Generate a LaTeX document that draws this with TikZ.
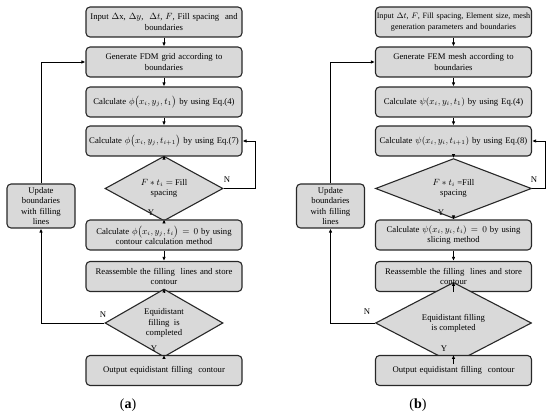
\documentclass[tikz,border=0pt]{standalone}
\usepackage{fontspec}
\setmainfont{Liberation Serif}
\usetikzlibrary{shapes.geometric,arrows.meta}
\definecolor{boxgray}{RGB}{217,217,217}
\definecolor{edgegray}{RGB}{40,40,40}
\tikzset{
  x=1pt,y=-1pt,
  every node/.style={font=\fontsize{8.7}{10.2}\selectfont},
  procbox/.style={draw=edgegray,line width=1.1pt,fill=boxgray,rounded corners=4pt,
    align=center,inner sep=0pt,minimum height=30pt},
  wideA/.style={procbox,minimum width=156pt,text width=156pt},
  upd/.style={procbox,minimum width=68pt,minimum height=44pt,text width=68pt},
  decide/.style={draw=edgegray,line width=1.1pt,fill=boxgray,diamond,align=center,inner sep=0pt},
  arr/.style={draw=black,line width=0.8pt,-{Latex[length=4pt,width=3.5pt]}},
  lab/.style={inner sep=0pt},
  captxt/.style={inner sep=0pt,font=\fontsize{14}{16}\selectfont}
}
\begin{document}
\begin{tikzpicture}
\useasboundingbox (0,0) rectangle (550,417);
% ---------------- (a)
\node[wideA] (a1) at (164,22) {Input $\Delta\mathrm{x}$, $\Delta y$,\ \ $\Delta t$, $F$, Fill spacing\ \ and\\boundaries};
\node[wideA] (a2) at (164,62) {Generate FDM grid according to\\boundaries};
\node[wideA] (a3) at (164,102) {Calculate $\phi\bigl(x_i,y_j,t_1\bigr)$ by using Eq.(4)};
\node[wideA] (a4) at (164,141) {Calculate $\phi\bigl(x_i,y_j,t_{i+1}\bigr)$ by using Eq.(7)};
\node[decide,minimum width=118pt,minimum height=43pt] (ad1) at (164,188.5) {$F*t_i=$ Fill\\spacing};
\node[wideA] (a5) at (164,235) {Calculate $\phi\bigl(x_i,y_j,t_i\bigr)=0$ by using\\contour calculation method};
\node[wideA] (a6) at (164,276.5) {Reassemble the filling\ \ lines and store\\contour};
\node[decide,minimum width=118pt,minimum height=42pt] (ad2) at (164,323) {Equidistant\\filling\ \ is\\completed};
\node[wideA] (a7) at (164,370.5) {Output equidistant filling\ \ contour};
\node[upd] (au) at (41,206) {Update\\boundaries\\with filling\\lines};
\draw[arr] (a1) -- (a2);
\draw[arr] (a2) -- (a3);
\draw[arr] (a3) -- (a4);
\draw[arr] (a4) -- (ad1);
\draw[arr] (ad1) -- (a5);
\draw[arr] (a5) -- (a6);
\draw[arr] (a6) -- (ad2);
\draw[arr] (ad2) -- (a7);
\draw[arr] (ad1.east) -- ++(32,0) |- (a4.east);
\draw[arr] (ad2.west) -| (au.south);
\draw[arr] (au.north) |- (a2.west);
\node[lab] (an1) at (227,180) {N};
\node[lab] (ay1) at (151,213) {Y};
\node[lab] (an2) at (103,315) {N};
\node[lab] (ay2) at (154,349) {Y};
\node[captxt] (capa) at (128,405) {(\textbf{a})};
% ---------------- (b)
\node[wideA,font=\fontsize{8.1}{10.2}\selectfont] (b1) at (453.5,22) {Input $\Delta t$, $F$, Fill spacing, Element size, mesh\\generation parameters and boundaries};
\node[wideA] (b2) at (453.5,62) {Generate FEM mesh according to\\boundaries};
\node[wideA] (b3) at (453.5,102) {Calculate $\psi(x_i,y_i,t_1)$ by using Eq.(4)};
\node[wideA] (b4) at (453.5,141) {Calculate $\psi(x_i,y_i,t_{i+1})$ by using Eq.(8)};
\node[decide,minimum width=156pt,minimum height=43pt] (bd1) at (453.5,188.5) {$F*t_i$ =Fill\\spacing};
\node[wideA] (b5) at (453.5,235) {Calculate $\psi(x_i,y_i,t_i)=0$ by using\\slicing method};
\node[wideA] (b6) at (453.5,276.5) {Reassemble the filling\ \ lines and store\\contour};
\node[decide,minimum width=156pt,minimum height=42pt] (bd2) at (453.5,323) {Equidistant filling\\is completed};
\node[wideA] (b7) at (453.5,370.5) {Output equidistant filling\ \ contour};
\node[upd] (bu) at (330.5,206) {Update\\boundaries\\with filling\\lines};
\draw[arr] (b1) -- (b2);
\draw[arr] (b2) -- (b3);
\draw[arr] (b3) -- (b4);
\draw[arr] (b4) -- (bd1);
\draw[arr] (bd1) -- (b5);
\draw[arr] (b5) -- (b6);
\draw[arr] (b6) -- (bd2);
\draw[arr] (bd2) -- (b7);
\draw[arr] (bd1.east) -- ++(13,0) |- (b4.east);
\draw[arr] (bd2.west) -| (bu.south);
\draw[arr] (bu.north) |- (b2.west);
\node[lab] (bn1) at (534,180) {N};
\node[lab] (by1) at (441,213) {Y};
\node[lab] (bn2) at (367,312) {N};
\node[lab] (by2) at (444,349) {Y};
\node[captxt] (capb) at (418,405) {(\textbf{b})};
\end{tikzpicture}
\end{document}
